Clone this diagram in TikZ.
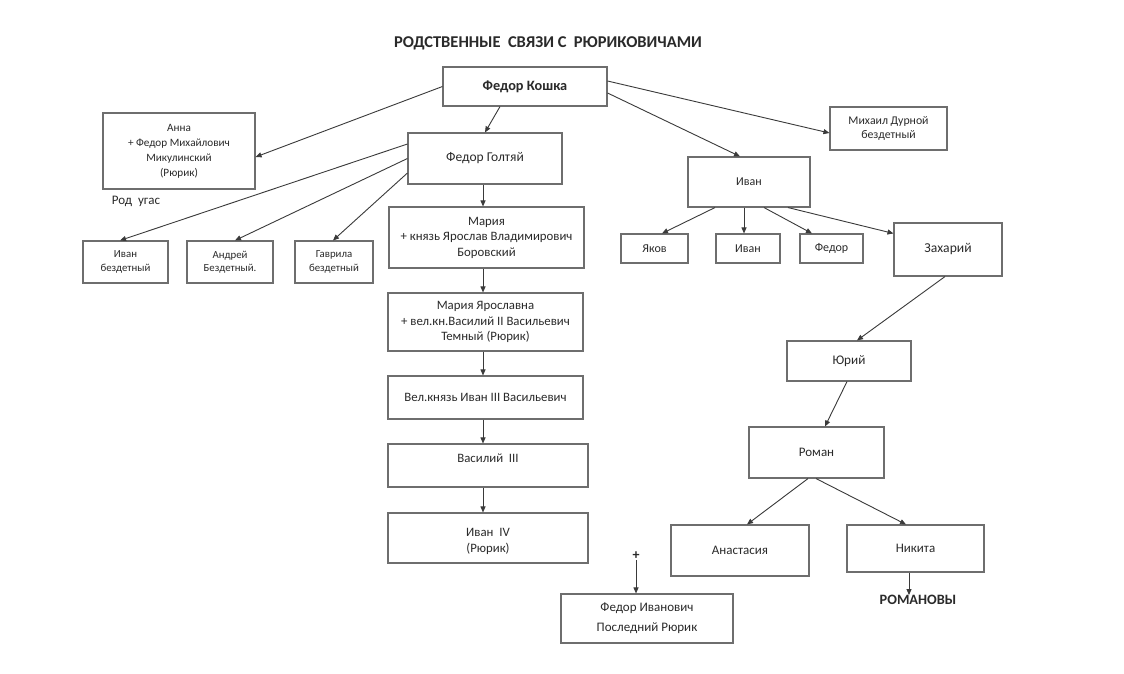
\documentclass[tikz,border=0pt]{standalone}
\usepackage{fontspec}
\setmainfont{Carlito}
\usetikzlibrary{arrows.meta}
\definecolor{boxline}{HTML}{6E6E6E}
\definecolor{arrline}{HTML}{3A3A3A}
\definecolor{txt}{HTML}{2A2A2A}
\tikzset{
  box/.style={draw=boxline, line width=1.1pt, rectangle, align=center, inner sep=1pt,
    text=txt, font=\fontsize{10.5}{15}\selectfont},
  smallbox/.style={box, minimum height=42pt, font=\fontsize{10.8}{13.5}\selectfont},
  conn/.style={draw=arrline, line width=0.9pt, -{Triangle[length=6pt,width=5pt]}},
  plain/.style={text=txt, inner sep=0pt}
}
\begin{document}
\begin{tikzpicture}[x=1pt,y=-1pt]
\useasboundingbox (0,0) rectangle (1124,674);
\fill[white] (0,0) rectangle (1124,674);

\node[plain, font=\bfseries\fontsize{16.5}{18}\selectfont] (title) at (548,43) {РОДСТВЕННЫЕ\ \ СВЯЗИ С\ \ РЮРИКОВИЧАМИ};

\node[box, minimum width=164pt, minimum height=39pt, font=\bfseries\fontsize{14.3}{16}\selectfont] (koshka) at (525,86.5) {Федор Кошка};
\node[box, minimum width=152pt, minimum height=76pt, font=\fontsize{11.2}{15}\selectfont] (anna) at (179,151) {Анна\\+ Федор Михайлович\\Микулинский\\(Рюрик)};
\node[plain, font=\fontsize{13}{14}\selectfont] (rod) at (136,201) {Род\ \ угас};
\node[box, minimum width=154pt, minimum height=51pt, font=\fontsize{13.5}{15}\selectfont] (goltyay) at (485,158.5) {Федор Голтяй};
\node[box, minimum width=117pt, minimum height=43pt, font=\fontsize{11.8}{14}\selectfont] (mikhail) at (888.5,128.5) {Михаил Дурной\\бездетный};
\node[box, minimum width=122pt, minimum height=50pt, font=\fontsize{12}{15}\selectfont] (ivanm) at (749,182) {Иван};

\node[smallbox, minimum width=85pt] (ivanb) at (125.5,262) {Иван\\бездетный};
\node[smallbox, minimum width=86pt] (andrey) at (230,262) {Андрей\\Бездетный.};
\node[smallbox, minimum width=78pt] (gavrila) at (334,262) {Гаврила\\бездетный};
\node[box, minimum width=195pt, minimum height=61pt, font=\fontsize{12.8}{15.5}\selectfont] (mariya) at (486.5,237.5) {Мария\\+ князь Ярослав Владимирович\\Боровский};

\node[box, minimum width=67pt, minimum height=29pt, font=\fontsize{12}{15}\selectfont] (yakov) at (654.5,248.5) {Яков};
\node[box, minimum width=64pt, minimum height=29pt, font=\fontsize{12}{15}\selectfont] (ivans) at (748,248.5) {Иван};
\node[box, minimum width=63pt, minimum height=29pt, font=\fontsize{12}{15}\selectfont] (fedor) at (831.5,248.5) {Федор};
\node[box, minimum width=108pt, minimum height=53pt, font=\fontsize{13.6}{15}\selectfont] (zakhariy) at (948,249.5) {Захарий};

\node[box, minimum width=195pt, minimum height=58pt, font=\fontsize{12.8}{15.5}\selectfont] (mariyay) at (485.5,322) {Мария Ярославна\\+ вел.кн.Василий II Васильевич\\Темный (Рюрик)};
\node[box, minimum width=195pt, minimum height=43pt, font=\fontsize{12.8}{15.5}\selectfont] (ivan3) at (485.5,397.5) {Вел.князь Иван III Васильевич};
\node[box, minimum width=200pt, minimum height=43pt, font=\fontsize{12.8}{14}\selectfont] (vasiliy) at (488,465.5) {Василий\ \ III\\[0pt]~};
\node[box, minimum width=200pt, minimum height=50pt, font=\fontsize{12.8}{16}\selectfont] (ivan4) at (488,538) {~\\Иван\ \ IV\\(Рюрик)};

\node[box, minimum width=124pt, minimum height=40pt, font=\fontsize{13.2}{15}\selectfont] (yuriy) at (849,361) {Юрий};
\node[box, minimum width=135pt, minimum height=51pt, font=\fontsize{13}{15}\selectfont] (roman) at (816.5,452.5) {Роман};
\node[box, minimum width=138pt, minimum height=51pt, font=\fontsize{13}{15}\selectfont] (anastasiya) at (740,550.5) {Анастасия};
\node[box, minimum width=137pt, minimum height=47pt, font=\fontsize{13}{15}\selectfont] (nikita) at (915.5,548.5) {Никита};
\node[plain, font=\bfseries\fontsize{14.3}{16}\selectfont] (romanovy) at (918,600) {РОМАНОВЫ};

\node[plain, font=\bfseries\fontsize{14}{15}\selectfont] (plus) at (636,556) {+};
\node[box, minimum width=172pt, minimum height=49pt, font=\fontsize{13}{20}\selectfont] (fedori) at (647,618.5) {Федор Иванович\\Последний Рюрик};

% connectors
\draw[conn] (koshka.west) -- ([yshift=-6pt]anna.east);
\draw[conn] ([xshift=-25pt]koshka.south) -- (goltyay.north);
\draw[conn] ([yshift=5.5pt]koshka.east) -- ([yshift=-4.5pt]mikhail.west);
\draw[conn] ([yshift=-6.5pt]koshka.east) -- ([xshift=-9pt]ivanm.north);

\draw[conn] ([yshift=14.5pt]goltyay.west) -- ([xshift=-5.5pt]ivanb.north);
\draw[conn] (goltyay.west) -- ([xshift=5pt]andrey.north);
\draw[conn] ([yshift=-14.5pt]goltyay.west) -- ([xshift=-1pt]gavrila.north);

\draw[conn] ([xshift=-2pt]goltyay.south) -- ([xshift=-2pt]goltyay.south |- mariya.north);
\draw[conn] ([xshift=-2pt]goltyay.south |- mariya.south) -- ([xshift=-2pt]goltyay.south |- mariyay.north);
\draw[conn] ([xshift=-2pt]goltyay.south |- mariyay.south) -- ([xshift=-2pt]goltyay.south |- ivan3.north);
\draw[conn] ([xshift=-2pt]goltyay.south |- ivan3.south) -- ([xshift=-2pt]goltyay.south |- vasiliy.north);
\draw[conn] ([xshift=-2pt]goltyay.south |- vasiliy.south) -- ([xshift=-2pt]goltyay.south |- ivan4.north);

\draw[conn] ([xshift=-34pt]ivanm.south) -- ([xshift=7.5pt]yakov.north);
\draw[conn] ([xshift=-5pt]ivanm.south) -- ([xshift=-4pt]ivans.north);
\draw[conn] ([xshift=15pt]ivanm.south) -- ([xshift=-19.5pt]fedor.north);
\draw[conn] ([xshift=39pt]ivanm.south) -- ([yshift=-11pt]zakhariy.north west);

\draw[conn] ([xshift=-3pt]zakhariy.south) -- ([xshift=8pt]yuriy.north);
\draw[conn] ([xshift=-2pt]yuriy.south) -- ([xshift=8.5pt]roman.north);
\draw[conn] ([xshift=-8.5pt]roman.south) -- ([xshift=7pt]anastasiya.north);
\draw[conn] ([xshift=-0.5pt]roman.south) -- ([xshift=-9.5pt]nikita.north);
\draw[conn] ([xshift=-6.5pt]nikita.south) -- ([xshift=-6.5pt]nikita.south |- romanovy.north);
\draw[conn] (plus.south) -- (plus.south |- fedori.north);
\end{tikzpicture}
\end{document}
